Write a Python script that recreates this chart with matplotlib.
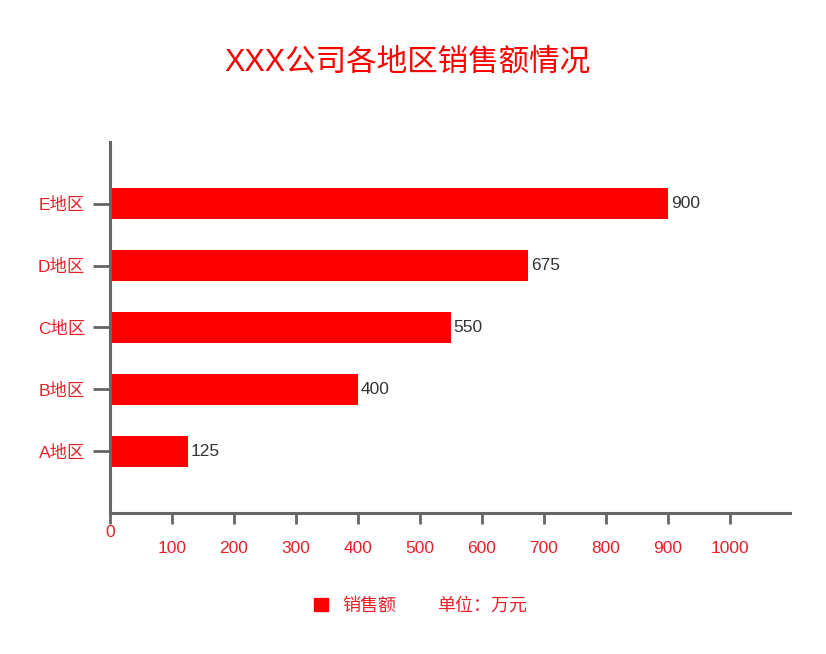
import matplotlib.pyplot as plt
from matplotlib.patches import Patch

plt.rcParams['font.family'] = ['Liberation Sans', 'Noto Sans CJK SC', 'DejaVu Sans']

regions = ["A地区", "B地区", "C地区", "D地区", "E地区"]
sales = [125, 400, 550, 675, 900]
xticks = [0, 100, 200, 300, 400, 500, 600, 700, 800, 900, 1000]

RED = "#ff0000"
TXT = "#e8202a"
AXIS = "#666666"

fig = plt.figure(figsize=(8.26, 6.54), dpi=100)
ax = fig.add_axes([0.1332, 0.2156, 0.8232, 0.5673])

bars = ax.barh(range(len(regions)), sales, height=0.5, color=RED, label="销售额")
ax.bar_label(bars, padding=2, fontsize=12.5, color="#333333")

ax.set_xlim(0, 1097)
ax.set_ylim(-1, 5)
ax.set_yticks(range(len(regions)))
ax.set_yticklabels(regions, fontsize=12.5, color=TXT)
ax.set_xticks(xticks)
ax.set_xticklabels([str(v) for v in xticks], fontsize=12.5, color=TXT)

for s in ["top", "right"]:
    ax.spines[s].set_visible(False)
for s in ["left", "bottom"]:
    ax.spines[s].set_color(AXIS)
    ax.spines[s].set_linewidth(2.2)

ax.tick_params(axis="x", length=8, width=2, color=AXIS, pad=12)
ax.tick_params(axis="y", length=12, width=2, color=AXIS, pad=6)
ax.xaxis.get_major_ticks()[0].set_pad(1)

fig.suptitle("XXX公司各地区销售额情况", x=0.493, y=0.928, fontsize=22, color=RED)

fig.legend(handles=[Patch(color=RED)], labels=["销售额"], loc="center",
           bbox_to_anchor=(0.43, 0.073), frameon=False, fontsize=13,
           labelcolor=TXT, handlelength=0.8, handleheight=0.8, handletextpad=0.8)
fig.text(0.529, 0.073, "单位：万元", fontsize=13, color=TXT, va="center")

fig.savefig("out.png", dpi=100)
